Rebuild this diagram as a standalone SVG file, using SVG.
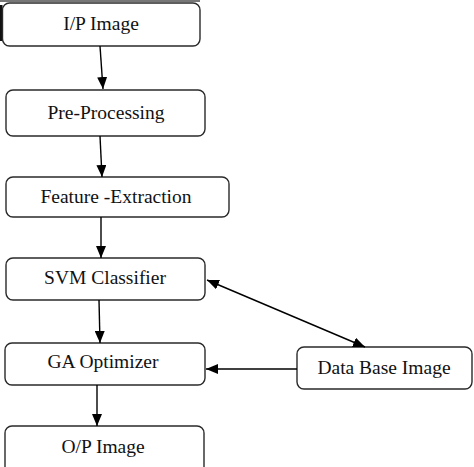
<svg xmlns="http://www.w3.org/2000/svg" width="474" height="467" viewBox="0 0 474 467">
<style>
.box{fill:#fff;stroke:#2a2a2a;stroke-width:1.4}
.lbl{font-family:"Liberation Serif","Times New Roman",serif;font-size:19.5px;fill:#111;text-anchor:middle}
.con{stroke:#000;stroke-width:1.4;fill:none}
</style>
<defs>
<marker id="ah" viewBox="0 0 12 10" refX="12" refY="5" markerWidth="12" markerHeight="10" markerUnits="userSpaceOnUse" orient="auto-start-reverse">
<path d="M0,0 L12,5 L0,10 z" fill="#000"/>
</marker>
</defs>
<rect width="474" height="467" fill="#fff"/>
<rect x="0" y="0" width="200" height="2" fill="#777"/>
<rect x="0" y="5" width="2.5" height="36" fill="#111"/>
<g id="n1"><rect class="box" x="2.5" y="3" width="197.5" height="43" rx="7"/><text class="lbl" x="101" y="30">I/P Image</text></g>
<g id="n2"><rect class="box" x="6" y="90" width="199" height="46" rx="7"/><text class="lbl" x="106" y="119">Pre-Processing</text></g>
<g id="n3"><rect class="box" x="6" y="177" width="223" height="40" rx="7"/><text class="lbl" x="116" y="203">Feature -Extraction</text></g>
<g id="n4"><rect class="box" x="6" y="258" width="199" height="42" rx="7"/><text class="lbl" x="105" y="284">SVM Classifier</text></g>
<g id="n5"><rect class="box" x="5" y="343" width="200" height="42" rx="7"/><text class="lbl" x="103" y="368">GA Optimizer</text></g>
<g id="n6"><rect class="box" x="5" y="426" width="199" height="50" rx="7"/><text class="lbl" x="103" y="453">O/P Image</text></g>
<g id="n7"><rect class="box" x="297" y="347" width="175" height="42" rx="7"/><text class="lbl" x="384" y="374">Data Base Image</text></g>
<g id="connectors">
<line class="con" x1="100" y1="46" x2="103" y2="89" marker-end="url(#ah)"/>
<line class="con" x1="100" y1="136" x2="102" y2="177" marker-end="url(#ah)"/>
<line class="con" x1="101" y1="217" x2="101" y2="258" marker-end="url(#ah)"/>
<line class="con" x1="99" y1="300" x2="100" y2="343" marker-end="url(#ah)"/>
<line class="con" x1="97" y1="385" x2="97" y2="426" marker-end="url(#ah)"/>
<line class="con" x1="297" y1="369" x2="206" y2="369" marker-end="url(#ah)"/>
<line class="con" x1="207" y1="280" x2="365" y2="347" marker-start="url(#ah)" marker-end="url(#ah)"/>
</g>
</svg>
